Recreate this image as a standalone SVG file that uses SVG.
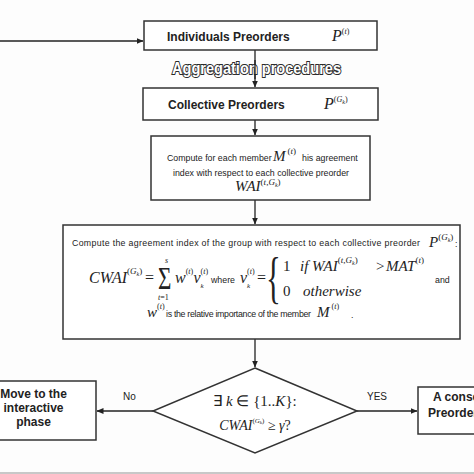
<svg xmlns="http://www.w3.org/2000/svg" width="474" height="474" viewBox="0 0 474 474">
<style>
.box{fill:#fff;stroke:#333;stroke-width:1.5}
.ln{fill:none;stroke:#222;stroke-width:1.3}
.b{font-family:"Liberation Sans",Arial,sans-serif;font-weight:bold;font-size:12px;fill:#222}
.s{font-family:"Liberation Sans",Arial,sans-serif;font-size:8.8px;fill:#222}
.m{font-family:"Liberation Serif","Times New Roman",serif;font-style:italic;fill:#222}
.r{font-family:"Liberation Serif","Times New Roman",serif;font-style:normal;fill:#222}
.agg{font-family:"Liberation Sans",Arial,sans-serif;font-weight:bold;font-size:17px;fill:#fff;stroke:#2a2a2a;stroke-width:2;paint-order:stroke}
</style>
<defs>
<marker id="ah" markerWidth="7" markerHeight="6" refX="6.5" refY="3" orient="auto" markerUnits="userSpaceOnUse">
<path d="M0,0 L7,3 L0,6 Z" fill="#222"/>
</marker>
</defs>
<rect x="0" y="0" width="474" height="474" fill="#fdfdfd"/>
<rect x="0" y="472" width="474" height="2" fill="#c8c8c8"/>

<g id="connectors">
<line class="ln" x1="0" y1="41" x2="143" y2="41" marker-end="url(#ah)"/>
<line class="ln" x1="255" y1="50" x2="255" y2="87" marker-end="url(#ah)"/>
<line class="ln" x1="255" y1="120" x2="255" y2="135" marker-end="url(#ah)"/>
<line class="ln" x1="255" y1="200" x2="255" y2="224" marker-end="url(#ah)"/>
<line class="ln" x1="255" y1="339" x2="255" y2="367" marker-end="url(#ah)"/>
<line class="ln" x1="153" y1="411" x2="97" y2="411" marker-end="url(#ah)"/>
<line class="ln" x1="357" y1="411" x2="417" y2="411" marker-end="url(#ah)"/>
<text class="s" x="123" y="400" style="font-size:10px">No</text>
<text class="s" x="367" y="400" style="font-size:10px">YES</text>
</g>

<g id="individuals">
<rect class="box" x="144" y="21" width="233" height="29"/>
<text class="b" x="167" y="41">Individuals Preorders</text>
<text class="m" x="332" y="41" font-size="16">P<tspan class="r" font-size="8" dy="-7">(</tspan><tspan font-size="8">t</tspan><tspan class="r" font-size="8">)</tspan></text>
</g>

<g id="aggregation-label">
<text class="agg" x="172" y="74" textLength="169" lengthAdjust="spacingAndGlyphs">Aggregation procedures</text>
</g>
<line class="ln" x1="255" y1="60" x2="255" y2="79"/>

<g id="collective">
<rect class="box" x="143" y="88" width="235" height="32"/>
<text class="b" x="168" y="109">Collective Preorders</text>
<text class="m" x="324" y="109" font-size="16">P<tspan class="r" font-size="8" dy="-7">(</tspan><tspan font-size="8">G</tspan><tspan font-size="6" dy="2">k</tspan><tspan class="r" font-size="8" dy="-2">)</tspan></text>
</g>

<g id="member-index">
<rect class="box" x="151" y="136" width="219" height="64"/>
<text class="s" x="167" y="161">Compute for each member</text>
<text class="m" x="273" y="161" font-size="15">M<tspan class="r" font-size="9" dx="2" dy="-7">(</tspan><tspan font-size="9">t</tspan><tspan class="r" font-size="9">)</tspan></text>
<text class="s" x="302" y="161">his agreement</text>
<text class="s" x="261" y="176" text-anchor="middle">index with respect to each collective preorder</text>
<text class="m" x="235" y="191" font-size="15">WAI<tspan class="r" font-size="9" dy="-6">(</tspan><tspan font-size="9">t</tspan><tspan class="r" font-size="9">,</tspan><tspan font-size="9">G</tspan><tspan font-size="6" dy="2">k</tspan><tspan class="r" font-size="9" dy="-2">)</tspan></text>
</g>

<g id="group-index">
<rect class="box" x="63" y="225" width="397" height="114"/>
<text class="s" x="72" y="246" textLength="348">Compute the agreement index of the group with respect to each collective preorder</text>
<text class="m" x="429" y="247" font-size="15">P<tspan class="r" font-size="9" dy="-7">(</tspan><tspan font-size="9">G</tspan><tspan font-size="6" dy="2">k</tspan><tspan class="r" font-size="9" dy="-2">)</tspan></text>
<text class="s" x="455" y="247">:</text>

<text class="m" x="89" y="283" font-size="16">CWAI<tspan class="r" font-size="9" dy="-9">(</tspan><tspan font-size="9">G</tspan><tspan font-size="6" dy="2">k</tspan><tspan class="r" font-size="9" dy="-2">)</tspan></text>
<text class="r" x="145" y="283" font-size="16">=</text>
<text class="r" transform="translate(158,289) scale(0.72,1)" font-size="32">Σ</text>
<text class="m" x="165" y="263" font-size="8">s</text>
<text class="m" x="158" y="300" font-size="8">t<tspan class="r">=1</tspan></text>
<text class="m" x="175" y="283" font-size="16">w<tspan class="r" font-size="8" dy="-9">(</tspan><tspan font-size="8">t</tspan><tspan class="r" font-size="8">)</tspan></text>
<text class="m" x="193.5" y="283" font-size="16">v</text>
<text class="m" x="200.5" y="288" font-size="7">k</text>
<text class="m" x="200.5" y="274" font-size="8"><tspan class="r">(</tspan>t<tspan class="r">)</tspan></text>
<text class="s" x="211" y="283">where</text>
<text class="m" x="240" y="283" font-size="16">v</text>
<text class="m" x="247" y="288" font-size="7">k</text>
<text class="m" x="247" y="274" font-size="8"><tspan class="r">(</tspan>t<tspan class="r">)</tspan></text>
<text class="r" x="257" y="283" font-size="16">=</text>
<text class="r" transform="translate(266,297) scale(0.55,1)" font-size="56">{</text>
<text class="r" x="283" y="271" font-size="15">1</text>
<text class="m" x="300" y="271" font-size="15">if WAI<tspan class="r" font-size="9" dy="-8">(</tspan><tspan font-size="9">t</tspan><tspan class="r" font-size="9">,</tspan><tspan font-size="9">G</tspan><tspan font-size="6" dy="2">k</tspan><tspan class="r" font-size="9" dy="-2">)</tspan></text>
<text class="r" x="376" y="271" font-size="15">&gt;</text>
<text class="m" x="386" y="271" font-size="15">MAT<tspan class="r" font-size="9" dy="-8">(</tspan><tspan font-size="9">t</tspan><tspan class="r" font-size="9">)</tspan></text>
<text class="s" x="435" y="283">and</text>
<text class="r" x="283" y="296" font-size="15">0</text>
<text class="m" x="303" y="296" font-size="15">otherwise</text>

<text class="m" x="147" y="317" font-size="15">w<tspan class="r" font-size="8" dy="-8">(</tspan><tspan font-size="8">t</tspan><tspan class="r" font-size="8">)</tspan></text>
<text class="s" x="166" y="317" textLength="145">is the relative importance of the member</text>
<text class="m" x="317" y="317" font-size="15">M<tspan class="r" font-size="8" dx="2" dy="-8">(</tspan><tspan font-size="8">t</tspan><tspan class="r" font-size="8">)</tspan></text>
<text class="s" x="351" y="318">.</text>
</g>

<g id="decision">
<polygon class="box" points="255,368 357,411 255,453 153,411"/>
<text class="r" x="255" y="406" font-size="15" text-anchor="middle">∃ <tspan class="m">k</tspan> ∈ {1..<tspan class="m">K</tspan>}:</text>
<text class="m" x="255" y="430" font-size="14" text-anchor="middle">CWAI<tspan class="r" font-size="7" dy="-7">(</tspan><tspan font-size="7">G</tspan><tspan font-size="5" dy="1">k</tspan><tspan class="r" font-size="7" dy="-1">)</tspan><tspan class="r" dy="7"> ≥ </tspan>γ<tspan class="r">?</tspan></text>
</g>

<g id="interactive">
<rect class="box" x="-30" y="381" width="126" height="59"/>
<text class="b" x="33.5" y="398" text-anchor="middle">Move to the</text>
<text class="b" x="33.5" y="412" text-anchor="middle">interactive</text>
<text class="b" x="33.5" y="426" text-anchor="middle">phase</text>
</g>

<g id="consensus">
<rect class="box" x="418" y="387" width="80" height="47"/>
<text class="b" x="433" y="401">A conse</text>
<text class="b" x="428" y="417">Preorder</text>
</g>
</svg>
